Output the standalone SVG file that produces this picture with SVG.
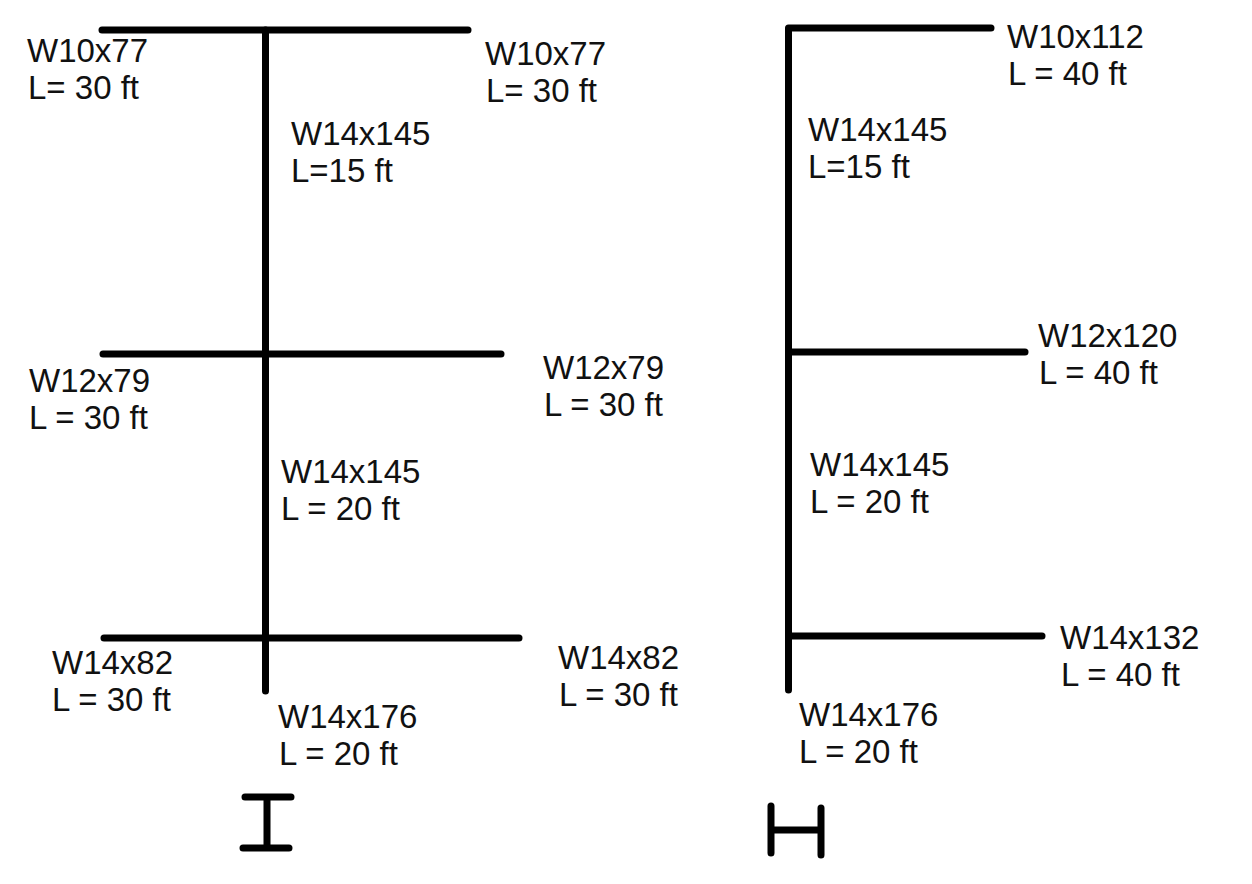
<svg xmlns="http://www.w3.org/2000/svg" width="1252" height="884" viewBox="0 0 1252 884">
<style>
text{font-family:"Liberation Sans",Arial,sans-serif;font-size:33px;fill:#111}
.m{fill:none;stroke:#000;stroke-width:7;stroke-linecap:round;stroke-linejoin:round}
</style>
<rect width="1252" height="884" fill="#fff"/>
<g id="connectors">
<path class="m" d="M102 30H468"/>
<path class="m" d="M265.500 30V691"/>
<path class="m" d="M103 354H501"/>
<path class="m" d="M104 638H519"/>
<path class="m" d="M991 28H788.500V690"/>
<path class="m" d="M789 352H1025"/>
<path class="m" d="M789 636H1042"/>
<path class="m" d="M245 797H291M267 797V848M243 848H289"/>
<path class="m" d="M771 806V853M771 830H821M821 808V855"/>
</g>
<g id="labels">
<text x="27" y="62">W10x77</text><text x="28" y="99">L= 30 ft</text>
<text x="485" y="65">W10x77</text><text x="486" y="102">L= 30 ft</text>
<text x="291" y="145">W14x145</text><text x="291" y="182">L=15 ft</text>
<text x="29" y="392">W12x79</text><text x="29" y="429">L = 30 ft</text>
<text x="543" y="379">W12x79</text><text x="544" y="416">L = 30 ft</text>
<text x="281" y="483">W14x145</text><text x="281" y="520">L = 20 ft</text>
<text x="52" y="674">W14x82</text><text x="52" y="711">L = 30 ft</text>
<text x="558" y="669">W14x82</text><text x="559" y="706">L = 30 ft</text>
<text x="278" y="728">W14x176</text><text x="279" y="765">L = 20 ft</text>
<text x="1007" y="48">W10x112</text><text x="1008" y="85">L = 40 ft</text>
<text x="808" y="141">W14x145</text><text x="808" y="178">L=15 ft</text>
<text x="1038" y="347">W12x120</text><text x="1039" y="384">L = 40 ft</text>
<text x="810" y="476">W14x145</text><text x="810" y="513">L = 20 ft</text>
<text x="1060" y="649">W14x132</text><text x="1061" y="686">L = 40 ft</text>
<text x="799" y="726">W14x176</text><text x="799" y="763">L = 20 ft</text>
</g>
</svg>
